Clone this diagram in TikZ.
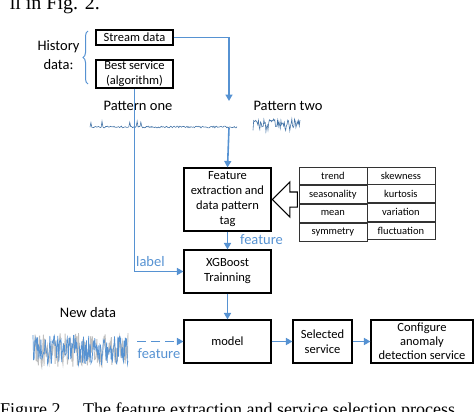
\documentclass[tikz,border=0pt]{standalone}
\usepackage{fontspec}
\setmainfont{Carlito}
\newfontfamily\paperfont{Liberation Serif}
\usetikzlibrary{arrows.meta,shapes.arrows,decorations.pathreplacing,positioning,matrix}
\definecolor{flowblue}{RGB}{86,146,210}
\begin{document}
\begin{tikzpicture}[
	x=1pt, y=-1pt,
	box/.style={
		rectangle, draw=black, line width=1.1pt,
		align=center, inner sep=0pt,
		font=\fontsize{12.5}{15}\selectfont
	},
	cell/.style={
		draw=black!80, line width=0.7pt,
		minimum width=68pt, minimum height=17.75pt,
		inner sep=0pt, font=\fontsize{10.5}{12}\selectfont
	},
	flow/.style={draw=flowblue, line width=1.6pt, -{Triangle[width=7pt,length=6.5pt]}},
	blue label/.style={text=flowblue, font=\fontsize{14.5}{16}\selectfont, inner sep=0pt},
	big label/.style={font=\fontsize{14.5}{16}\selectfont, inner sep=0pt},
	wave/.style={draw=flowblue!80!black, line width=0.6pt},
	]
	\useasboundingbox (0,0) rectangle (474,412);
	\clip (0,0) rectangle (474,412);
	\pgfmathsetseed{7}

	% text of the page around the figure
	\node [anchor=base east, font=\paperfont\fontsize{20}{22}\selectfont, inner sep=0pt] (pagetext) at (100,10) {ll in Fig. 2.};
	\node [anchor=base west, font=\paperfont\fontsize{18}{20}\selectfont, inner sep=0pt] (caption) at (0,415) {Figure 2.\quad The feature extraction and service selection process};

	% history data
	\node [box, minimum width=77pt, minimum height=15pt] (stream) at (134.5,37.5) {Stream data};
	\node [box, minimum width=77pt, minimum height=28pt] (best) at (134.5,74) {Best service\\(algorithm)};
	\node [align=center, font=\fontsize{14.5}{19}\selectfont, inner sep=0pt] (hist) at (58.5,55) {History\\data:};
	\draw [flowblue, line width=1pt, decorate, decoration={brace, amplitude=5pt}] (88,84) -- (88,31);

	% patterns
	\node [big label] (pone) at (138,106) {Pattern one};
	\node [big label] (ptwo) at (288,106) {Pattern two};
	\draw [wave] plot[domain=90:237, samples=160] (\x, {127+0.9*rand-5*(rnd>0.96)});
	\draw [wave] plot[domain=253:300, samples=70] (\x, {123+4*rand+5*(rnd>0.8)});

	% main blocks
	\node [box, minimum width=87pt, minimum height=63pt] (feat) at (227.5,199.5) {Feature\\extraction and\\data pattern\\tag};
	\node [box, minimum width=87pt, minimum height=43pt] (xgb) at (227.5,271.5) {XGBoost\\Trainning};
	\node [box, minimum width=87pt, minimum height=43pt] (model) at (227.5,341.5) {model};
	\node [box, minimum width=59pt, minimum height=43pt] (sel) at (322.5,341.5) {Selected\\service};
	\node [box, minimum width=102pt, minimum height=43pt, font=\fontsize{12.5}{14.2}\selectfont] (conf) at (422,341.5) {Configure\\anomaly\\detection service};

	% attribute table
	\matrix [matrix of nodes, nodes={cell}, column sep=-0.7pt, row sep=-0.7pt, anchor=north west] (attr) at (295,163) {
		trend & skewness \\
		seasonality & kurtosis \\
		mean & variation \\
		symmetry & fluctuation \\
	};
	\node [single arrow, draw=black, line width=1.1pt, shape border rotate=180,
		minimum height=25pt, minimum width=34pt, inner sep=7pt,
		single arrow head extend=10pt, anchor=tip] (attrarrow) at (feat.east) {};

	% new data
	\node [big label] (newdata) at (88,313) {New data};
	\draw [black!25, line width=0.9pt] plot[domain=34:128, samples=170] (\x, {350+17*rand});
	\draw [flowblue, line width=0.7pt] plot[domain=33:128, samples=170] (\x, {350+15*rand});

	% connectors
	\coordinate (streamend) at (229,101);
	\coordinate (wavestart) at (229,128);
	\coordinate (newstart) at (137,341.5);
	\path [flow] (stream.east) -| (streamend);
	\path [flow] (wavestart) -- (feat.north);
	\path [flow] (best.south) |- (xgb.west);
	\path [flow] (feat.south) -- (xgb.north);
	\path [flow] (xgb.south) -- (model.north);
	\path [flow, dash pattern=on 9pt off 5pt] (newstart) -- (model.west);
	\path [flow] (model.east) -- (sel.west);
	\path [flow] (sel.east) -- (conf.west);

	\node [blue label, anchor=south west] (lbl) at (136,267) {label};
	\node [blue label, anchor=west] (featlbl) at (240,240) {feature};
	\node [blue label] (newlbl) at (159,354) {feature};
\end{tikzpicture}
\end{document}
